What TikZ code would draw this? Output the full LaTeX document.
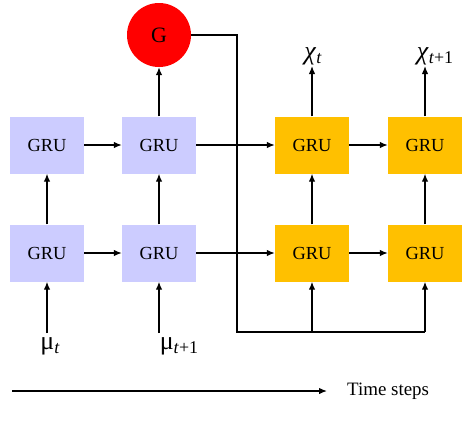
\documentclass[tikz,border=0pt]{standalone}
\usepackage{fontspec}
\setmainfont{Liberation Serif}
\usetikzlibrary{arrows.meta}
\definecolor{gruorange}{RGB}{255,192,0}
\tikzset{
  cell/.style={minimum width=74bp, minimum height=57bp, inner sep=0pt,
    font=\fontsize{18.5}{18.5}\selectfont},
  enc/.style={cell, fill=blue!20!white},
  dec/.style={cell, fill=gruorange},
  wire/.style={line width=1.3bp},
  flow/.style={wire, -{Latex[length=8bp, width=6.5bp]}},
  lbl/.style={font=\fontsize{26}{28}\selectfont, inner sep=1bp},
}
\newcommand{\lowsub}[1]{\raisebox{-0.35ex}{\fontsize{18}{18}\selectfont #1}}

\begin{document}
\begin{tikzpicture}[x={(1bp, 0bp)}, y={(0bp, -1bp)}]
  \useasboundingbox (0, 0) rectangle (474, 420);

  \foreach \i/\x in {0/47, 1/159} {
    \node[enc] (u\i) at (\x, 145) {GRU};
    \node[enc] (l\i) at (\x, 253) {GRU};
  }
  \foreach \i/\x in {2/312, 3/425} {
    \node[dec] (u\i) at (\x, 145) {GRU};
    \node[dec] (l\i) at (\x, 253) {GRU};
  }
  \node[circle, fill=red, minimum size=64bp, inner sep=0pt,
        font=\fontsize{22}{22}\selectfont] (g) at (159, 35) {G};

  \node[lbl, anchor=south] (x0) at (313, 66) {\textit{χ}\lowsub{\textit{t}}};
  \node[lbl, anchor=south] (x1) at (435, 66) {\textit{χ}\lowsub{\textit{t}+1}};
  \node[lbl, anchor=north, inner ysep=4bp] (m0) at (50, 333) {μ\lowsub{\textit{t}}};
  \node[lbl, anchor=north, inner ysep=4bp] (m1) at (179, 333) {μ\lowsub{\textit{t}+1}};

  \foreach \a/\b in {0/1, 1/2, 2/3} {
    \draw[flow] (u\a) to (u\b);
    \draw[flow] (l\a) to (l\b);
  }
  \foreach \i in {0, 1, 2, 3} {
    \draw[flow] (l\i) to (u\i);
  }
  \draw[flow] (u1) to (g);
  \draw[flow] (u2.north) to (u2.north |- x0.south);
  \draw[flow] (u3.north) to (u3.north |- x1.south);
  \draw[flow] (l0.south |- m0.north) to (l0.south);
  \draw[flow] (l1.south |- m1.north) to (l1.south);

  % feedback from G
  \coordinate (fb) at (237, 332);
  \draw[wire] (g.east) -| (fb) to (fb -| l3.south);
  \draw[flow] (fb -| l2.south) to (l2.south);
  \draw[flow] (fb -| l3.south) to (l3.south);

  % time axis
  \coordinate (t0) at (12, 391);
  \node[anchor=west, inner xsep=20bp, font=\fontsize{19}{19}\selectfont]
    (ts) at (327, 391) {Time steps};
  \draw[flow] (t0) to (ts.west);
\end{tikzpicture}
\end{document}
